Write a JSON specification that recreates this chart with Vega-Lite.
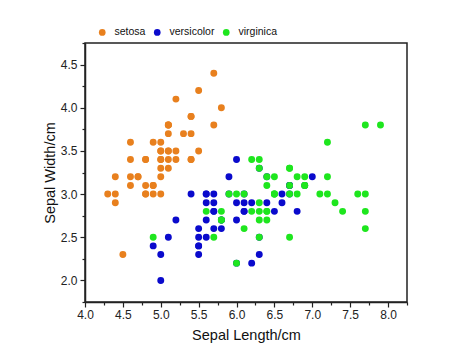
{
  "$schema": "https://vega.github.io/schema/vega-lite/v6.json",
  "autosize": "none",
  "width": 322,
  "height": 259,
  "padding": {"left": 85, "top": 43, "right": 67, "bottom": 62},
  "background": "white",
  "config": {
    "font": "Liberation Sans",
    "view": {"stroke": "#222", "strokeWidth": 1.5},
    "axis": {"grid": false, "domainColor": "#222", "domainWidth": 1.5, "tickColor": "#222", "tickWidth": 1.2, "labelColor": "#222", "labelFontSize": 12, "titleFontSize": 14.5, "titleFontWeight": "normal", "titleColor": "#111"}
  },
  "data": {"values": [
    {"species":"setosa","sl":5.1,"sw":3.5},{"species":"setosa","sl":4.9,"sw":3.0},{"species":"setosa","sl":4.7,"sw":3.2},{"species":"setosa","sl":4.6,"sw":3.1},{"species":"setosa","sl":5.0,"sw":3.6},
    {"species":"setosa","sl":5.4,"sw":3.9},{"species":"setosa","sl":4.6,"sw":3.4},{"species":"setosa","sl":5.0,"sw":3.4},{"species":"setosa","sl":4.4,"sw":2.9},{"species":"setosa","sl":4.9,"sw":3.1},
    {"species":"setosa","sl":5.4,"sw":3.7},{"species":"setosa","sl":4.8,"sw":3.4},{"species":"setosa","sl":4.8,"sw":3.0},{"species":"setosa","sl":4.3,"sw":3.0},{"species":"setosa","sl":5.8,"sw":4.0},
    {"species":"setosa","sl":5.7,"sw":4.4},{"species":"setosa","sl":5.4,"sw":3.9},{"species":"setosa","sl":5.1,"sw":3.5},{"species":"setosa","sl":5.7,"sw":3.8},{"species":"setosa","sl":5.1,"sw":3.8},
    {"species":"setosa","sl":5.4,"sw":3.4},{"species":"setosa","sl":5.1,"sw":3.7},{"species":"setosa","sl":4.6,"sw":3.6},{"species":"setosa","sl":5.1,"sw":3.3},{"species":"setosa","sl":4.8,"sw":3.4},
    {"species":"setosa","sl":5.0,"sw":3.0},{"species":"setosa","sl":5.0,"sw":3.4},{"species":"setosa","sl":5.2,"sw":3.5},{"species":"setosa","sl":5.2,"sw":3.4},{"species":"setosa","sl":4.7,"sw":3.2},
    {"species":"setosa","sl":4.8,"sw":3.1},{"species":"setosa","sl":5.4,"sw":3.4},{"species":"setosa","sl":5.2,"sw":4.1},{"species":"setosa","sl":5.5,"sw":4.2},{"species":"setosa","sl":4.9,"sw":3.1},
    {"species":"setosa","sl":5.0,"sw":3.2},{"species":"setosa","sl":5.5,"sw":3.5},{"species":"setosa","sl":4.9,"sw":3.6},{"species":"setosa","sl":4.4,"sw":3.0},{"species":"setosa","sl":5.1,"sw":3.4},
    {"species":"setosa","sl":5.0,"sw":3.5},{"species":"setosa","sl":4.5,"sw":2.3},{"species":"setosa","sl":4.4,"sw":3.2},{"species":"setosa","sl":5.0,"sw":3.5},{"species":"setosa","sl":5.1,"sw":3.8},
    {"species":"setosa","sl":4.8,"sw":3.0},{"species":"setosa","sl":5.1,"sw":3.8},{"species":"setosa","sl":4.6,"sw":3.2},{"species":"setosa","sl":5.3,"sw":3.7},{"species":"setosa","sl":5.0,"sw":3.3},
    {"species":"versicolor","sl":7.0,"sw":3.2},{"species":"versicolor","sl":6.4,"sw":3.2},{"species":"versicolor","sl":6.9,"sw":3.1},{"species":"versicolor","sl":5.5,"sw":2.3},{"species":"versicolor","sl":6.5,"sw":2.8},
    {"species":"versicolor","sl":5.7,"sw":2.8},{"species":"versicolor","sl":6.3,"sw":3.3},{"species":"versicolor","sl":4.9,"sw":2.4},{"species":"versicolor","sl":6.6,"sw":2.9},{"species":"versicolor","sl":5.2,"sw":2.7},
    {"species":"versicolor","sl":5.0,"sw":2.0},{"species":"versicolor","sl":5.9,"sw":3.0},{"species":"versicolor","sl":6.0,"sw":2.2},{"species":"versicolor","sl":6.1,"sw":2.9},{"species":"versicolor","sl":5.6,"sw":2.9},
    {"species":"versicolor","sl":6.7,"sw":3.1},{"species":"versicolor","sl":5.6,"sw":3.0},{"species":"versicolor","sl":5.8,"sw":2.7},{"species":"versicolor","sl":6.2,"sw":2.2},{"species":"versicolor","sl":5.6,"sw":2.5},
    {"species":"versicolor","sl":5.9,"sw":3.2},{"species":"versicolor","sl":6.1,"sw":2.8},{"species":"versicolor","sl":6.3,"sw":2.5},{"species":"versicolor","sl":6.1,"sw":2.8},{"species":"versicolor","sl":6.4,"sw":2.9},
    {"species":"versicolor","sl":6.6,"sw":3.0},{"species":"versicolor","sl":6.8,"sw":2.8},{"species":"versicolor","sl":6.7,"sw":3.0},{"species":"versicolor","sl":6.0,"sw":2.9},{"species":"versicolor","sl":5.7,"sw":2.6},
    {"species":"versicolor","sl":5.5,"sw":2.4},{"species":"versicolor","sl":5.5,"sw":2.4},{"species":"versicolor","sl":5.8,"sw":2.7},{"species":"versicolor","sl":6.0,"sw":2.7},{"species":"versicolor","sl":5.4,"sw":3.0},
    {"species":"versicolor","sl":6.0,"sw":3.4},{"species":"versicolor","sl":6.7,"sw":3.1},{"species":"versicolor","sl":6.3,"sw":2.3},{"species":"versicolor","sl":5.6,"sw":3.0},{"species":"versicolor","sl":5.5,"sw":2.5},
    {"species":"versicolor","sl":5.5,"sw":2.6},{"species":"versicolor","sl":6.1,"sw":3.0},{"species":"versicolor","sl":5.8,"sw":2.6},{"species":"versicolor","sl":5.0,"sw":2.3},{"species":"versicolor","sl":5.6,"sw":2.7},
    {"species":"versicolor","sl":5.7,"sw":3.0},{"species":"versicolor","sl":5.7,"sw":2.9},{"species":"versicolor","sl":6.2,"sw":2.9},{"species":"versicolor","sl":5.1,"sw":2.5},{"species":"versicolor","sl":5.7,"sw":2.8},
    {"species":"virginica","sl":6.3,"sw":3.3},{"species":"virginica","sl":5.8,"sw":2.7},{"species":"virginica","sl":7.1,"sw":3.0},{"species":"virginica","sl":6.3,"sw":2.9},{"species":"virginica","sl":6.5,"sw":3.0},
    {"species":"virginica","sl":7.6,"sw":3.0},{"species":"virginica","sl":4.9,"sw":2.5},{"species":"virginica","sl":7.3,"sw":2.9},{"species":"virginica","sl":6.7,"sw":2.5},{"species":"virginica","sl":7.2,"sw":3.6},
    {"species":"virginica","sl":6.5,"sw":3.2},{"species":"virginica","sl":6.4,"sw":2.7},{"species":"virginica","sl":6.8,"sw":3.0},{"species":"virginica","sl":5.7,"sw":2.5},{"species":"virginica","sl":5.8,"sw":2.8},
    {"species":"virginica","sl":6.4,"sw":3.2},{"species":"virginica","sl":6.5,"sw":3.0},{"species":"virginica","sl":7.7,"sw":3.8},{"species":"virginica","sl":7.7,"sw":2.6},{"species":"virginica","sl":6.0,"sw":2.2},
    {"species":"virginica","sl":6.9,"sw":3.2},{"species":"virginica","sl":5.6,"sw":2.8},{"species":"virginica","sl":7.7,"sw":2.8},{"species":"virginica","sl":6.3,"sw":2.7},{"species":"virginica","sl":6.7,"sw":3.3},
    {"species":"virginica","sl":7.2,"sw":3.2},{"species":"virginica","sl":6.2,"sw":2.8},{"species":"virginica","sl":6.1,"sw":3.0},{"species":"virginica","sl":6.4,"sw":2.8},{"species":"virginica","sl":7.2,"sw":3.0},
    {"species":"virginica","sl":7.4,"sw":2.8},{"species":"virginica","sl":7.9,"sw":3.8},{"species":"virginica","sl":6.4,"sw":2.8},{"species":"virginica","sl":6.3,"sw":2.8},{"species":"virginica","sl":6.1,"sw":2.6},
    {"species":"virginica","sl":7.7,"sw":3.0},{"species":"virginica","sl":6.3,"sw":3.4},{"species":"virginica","sl":6.4,"sw":3.1},{"species":"virginica","sl":6.0,"sw":3.0},{"species":"virginica","sl":6.9,"sw":3.1},
    {"species":"virginica","sl":6.7,"sw":3.1},{"species":"virginica","sl":6.9,"sw":3.1},{"species":"virginica","sl":5.8,"sw":2.7},{"species":"virginica","sl":6.8,"sw":3.2},{"species":"virginica","sl":6.7,"sw":3.3},
    {"species":"virginica","sl":6.7,"sw":3.0},{"species":"virginica","sl":6.3,"sw":2.5},{"species":"virginica","sl":6.5,"sw":3.0},{"species":"virginica","sl":6.2,"sw":3.4},{"species":"virginica","sl":5.9,"sw":3.0}
  ]},
  "mark": {"type": "circle", "opacity": 1, "size": 48},
  "encoding": {
    "x": {
      "field": "sl", "type": "quantitative", "title": "Sepal Length/cm",
      "scale": {"domain": [4.0, 8.25], "nice": false, "zero": false},
      "axis": {
        "values": [4.0,4.25,4.5,4.75,5.0,5.25,5.5,5.75,6.0,6.25,6.5,6.75,7.0,7.25,7.5,7.75,8.0,8.25],
        "labelExpr": "abs(datum.value*2 - round(datum.value*2)) < 0.01 ? format(datum.value, '.1f') : ''",
        "tickSize": {"condition": {"test": "abs(datum.value*2 - round(datum.value*2)) < 0.01", "value": 5}, "value": 3},
        "labelPadding": 2, "titlePadding": 8, "labelFlush": false
      }
    },
    "y": {
      "field": "sw", "type": "quantitative", "title": "Sepal Width/cm",
      "scale": {"domain": [1.75, 4.75], "nice": false, "zero": false},
      "axis": {
        "values": [1.75,2.0,2.25,2.5,2.75,3.0,3.25,3.5,3.75,4.0,4.25,4.5,4.75],
        "labelExpr": "abs(datum.value*2 - round(datum.value*2)) < 0.01 ? format(datum.value, '.1f') : ''",
        "tickSize": {"condition": {"test": "abs(datum.value*2 - round(datum.value*2)) < 0.01", "value": 5}, "value": 3},
        "labelPadding": 3, "titlePadding": 3, "labelFlush": false
      }
    },
    "color": {
      "field": "species", "type": "nominal",
      "scale": {"domain": ["setosa", "versicolor", "virginica"], "range": ["#E8801E", "#0A0ACC", "#1EE61E"]},
      "legend": {
        "title": null, "orient": "none", "direction": "horizontal",
        "legendX": 12, "legendY": -16, "symbolType": "circle", "symbolSize": 45,
        "labelFontSize": 10.5, "labelColor": "#111", "columnPadding": 6, "labelOffset": 7
      }
    }
  }
}
